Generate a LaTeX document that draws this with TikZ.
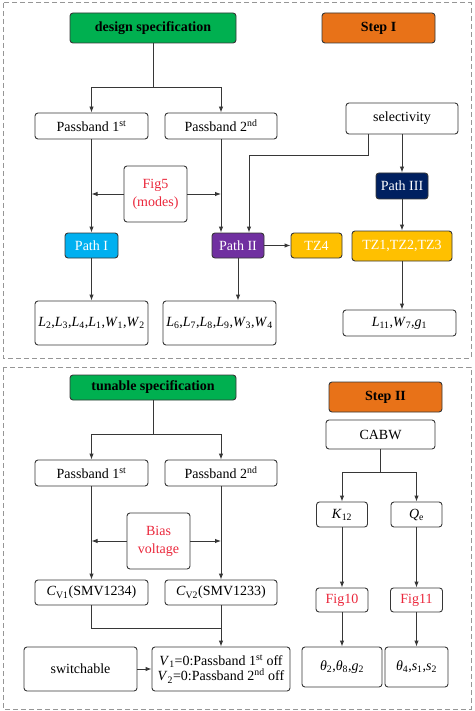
\documentclass[tikz,border=0pt]{standalone}
\usepackage{fontspec}
\setmainfont{Liberation Serif}
\usetikzlibrary{arrows.meta}
\definecolor{specgreen}{RGB}{0,176,80}
\definecolor{steporange}{RGB}{232,114,24}
\definecolor{pathcyan}{RGB}{0,176,240}
\definecolor{pathpurple}{RGB}{112,48,160}
\definecolor{pathnavy}{RGB}{0,32,96}
\definecolor{tzgold}{RGB}{255,192,0}
\definecolor{figred}{RGB}{235,40,60}
\definecolor{linec}{RGB}{55,55,55}
\definecolor{framegray}{RGB}{150,150,150}
\newcommand{\vsub}[2]{\textit{#1}\textsubscript{#2}}
\tikzset{
	box/.style={draw=linec, line width=0.9pt, rounded corners=3pt, inner sep=1pt,
		align=center, fill=white, font=\fontsize{14}{15}\selectfont},
	head/.style={box, font=\bfseries\fontsize{14}{15}\selectfont},
	pathbox/.style={box, text=white},
	figbox/.style={box, text=figred, font=\fontsize{14}{18}\selectfont},
	line/.style={draw=linec, line width=0.9pt},
	arr/.style={line, -{Latex[length=6pt,width=4.5pt]}},
	frame/.style={draw=framegray, line width=1pt, dash pattern=on 5pt off 3pt}
}
\begin{document}
\begin{tikzpicture}[x=1pt,y=-1pt]
	\useasboundingbox (0,0) rectangle (474,711);
	\draw[frame] (3,3) rectangle (471,358);
	\draw[frame] (3,367) rectangle (471,709);

	\node[head, fill=specgreen, minimum width=166pt, minimum height=30pt] (dspec) at (153,28) {design specification};
	\node[head, fill=steporange, minimum width=113pt, minimum height=30pt] (stepone) at (378.5,28) {Step I};
	\node[box, minimum width=113pt, minimum height=26pt] (pbonea) at (91.5,126) {Passband 1\textsuperscript{st}};
	\node[box, minimum width=112pt, minimum height=26pt] (pbtwoa) at (221,126) {Passband 2\textsuperscript{nd}};
	\node[box, minimum width=112pt, minimum height=31pt] (sel) at (402,118.5) {selectivity};
	\node[figbox, minimum width=63pt, minimum height=56pt] (figfive) at (155.5,194) {Fig5\\(modes)};
	\node[pathbox, fill=pathcyan, minimum width=53pt, minimum height=25pt] (pathone) at (91.5,245.5) {Path I};
	\node[pathbox, fill=pathpurple, minimum width=52pt, minimum height=25pt] (pathtwo) at (238,245.5) {Path II};
	\node[pathbox, fill=tzgold, minimum width=51pt, minimum height=25pt] (tzfour) at (316.5,245.5) {TZ4};
	\node[pathbox, fill=pathnavy, minimum width=52pt, minimum height=26pt] (paththree) at (402,186) {Path III};
	\node[pathbox, fill=tzgold, minimum width=100pt, minimum height=30pt] (tzall) at (402,246) {TZ1,TZ2,TZ3};
	\node[box, minimum width=113pt, minimum height=44pt] (resone) at (91.5,323)
		{\vsub{L}{2},\vsub{L}{3},\vsub{L}{4},\vsub{L}{1},\vsub{W}{1},\vsub{W}{2}};
	\node[box, minimum width=113pt, minimum height=44pt] (restwo) at (219.5,323)
		{\vsub{L}{6},\vsub{L}{7},\vsub{L}{8},\vsub{L}{9},\vsub{W}{3},\vsub{W}{4}};
	\node[box, minimum width=113pt, minimum height=26pt] (resthree) at (399.5,323)
		{\vsub{L}{11},\vsub{W}{7},\vsub{g}{1}};

	\draw[line] (dspec.south) -- ++(0,44) coordinate (jone);
	\draw[arr] (jone) -| (pbonea.north);
	\draw[arr] (jone) -| (pbtwoa.north);
	\draw[arr] (pbonea.south) -- (pathone.north);
	\draw[arr] (pbtwoa.south) -- (pbtwoa.south |- pathtwo.north);
	\draw[arr] ([xshift=-34pt]sel.south) -- ++(0,21) -| ([xshift=11pt]pathtwo.north);
	\draw[arr] (sel.south) -- (paththree.north);
	\draw[arr] (figfive.west) -- (figfive.west -| pathone.north);
	\draw[arr] (figfive.east) -- (figfive.east -| pbtwoa.south);
	\draw[arr] (pathtwo.east) -- (tzfour.west);
	\draw[arr] (paththree.south) -- (tzall.north);
	\draw[arr] (pathone.south) -- (resone.north);
	\draw[arr] (pathtwo.south) -- (pathtwo.south |- restwo.north);
	\draw[arr] (tzall.south) -- (tzall.south |- resthree.north);

	\node[head, fill=specgreen, minimum width=166pt, minimum height=25pt] (tspec) at (153,387.5) {tunable specification};
	\node[head, fill=steporange, minimum width=113pt, minimum height=30pt] (steptwo) at (385.5,397) {Step II};
	\node[box, minimum width=109pt, minimum height=29pt] (cabw) at (380.5,434.5) {CABW};
	\node[box, minimum width=113pt, minimum height=26pt] (pboneb) at (91.5,473) {Passband 1\textsuperscript{st}};
	\node[box, minimum width=112pt, minimum height=26pt] (pbtwob) at (221,473) {Passband 2\textsuperscript{nd}};
	\node[figbox, minimum width=63pt, minimum height=56pt] (bias) at (158.5,541) {Bias\\voltage};
	\node[box, minimum width=51pt, minimum height=25pt] (kone) at (342,514.5) {\vsub{K}{12}};
	\node[box, minimum width=51pt, minimum height=25pt] (qe) at (416.5,514.5) {\vsub{Q}{e}};
	\node[box, minimum width=113pt, minimum height=25pt] (cvone) at (91.5,592.5) {\vsub{C}{V1}(SMV1234)};
	\node[box, minimum width=112pt, minimum height=25pt] (cvtwo) at (221,592.5) {\vsub{C}{V2}(SMV1233)};
	\node[figbox, minimum width=52pt, minimum height=24pt] (figten) at (342,600) {Fig10};
	\node[figbox, minimum width=52pt, minimum height=24pt] (figeleven) at (416.5,600) {Fig11};
	\node[box, minimum width=113pt, minimum height=44pt] (switch) at (80.5,669) {switchable};
	\node[box, minimum width=138pt, minimum height=44pt, font=\fontsize{14}{14}\selectfont] (vstate) at (221,669)
		{\vsub{V}{1}=0:Passband 1\textsuperscript{st} off\\\vsub{V}{2}=0:Passband 2\textsuperscript{nd} off};
	\node[box, minimum width=80pt, minimum height=40pt] (thone) at (342,667) {\vsub{θ}{2},\vsub{θ}{8},\vsub{g}{2}};
	\node[box, minimum width=63pt, minimum height=40pt] (thtwo) at (416.5,667) {\vsub{θ}{4},\vsub{s}{1},\vsub{s}{2}};

	\draw[line] (tspec.south) -- ++(0,34) coordinate (jtwo);
	\draw[arr] (jtwo) -| (pboneb.north);
	\draw[arr] (jtwo) -| (pbtwob.north);
	\draw[line] (cabw.south) -- ++(0,23) coordinate (jthree);
	\draw[arr] (jthree) -| (kone.north);
	\draw[arr] (jthree) -| (qe.north);
	\draw[arr] (pboneb.south) -- (cvone.north);
	\draw[arr] (pbtwob.south) -- (cvtwo.north);
	\draw[arr] (bias.west) -- (bias.west -| pboneb.south);
	\draw[arr] (bias.east) -- (bias.east -| pbtwob.south);
	\draw[line] (cvone.south) |- (cvtwo.south |- 0,628);
	\draw[arr] (cvtwo.south) -- (vstate.north);
	\draw[arr] (switch.east) -- (vstate.west);
	\draw[arr] (kone.south) -- (figten.north);
	\draw[arr] (qe.south) -- (figeleven.north);
	\draw[arr] (figten.south) -- (thone.north);
	\draw[arr] (figeleven.south) -- (thtwo.north);
\end{tikzpicture}
\end{document}
